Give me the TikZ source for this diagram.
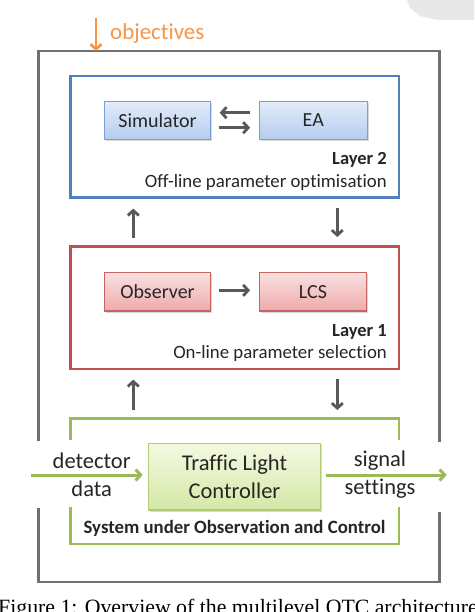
\documentclass[tikz,border=0pt]{standalone}
\usepackage{fontspec}
\setmainfont{Carlito}[Ligatures=NoCommon]
\newfontfamily\capfont{Liberation Serif}
\usetikzlibrary{arrows.meta,shadows}
\definecolor{outergray}{HTML}{707070}
\definecolor{l2blue}{HTML}{4F81BD}
\definecolor{l1red}{HTML}{C0504D}
\definecolor{sucgreen}{HTML}{9BBB59}
\definecolor{arrgray}{HTML}{595959}
\definecolor{objorange}{HTML}{F79646}
\definecolor{txt}{HTML}{262626}
\definecolor{bluetop}{HTML}{E3ECFA}
\definecolor{bluebot}{HTML}{B4CCEF}
\definecolor{blueedge}{HTML}{7A9FD6}
\definecolor{redtop}{HTML}{F9E0E0}
\definecolor{redbot}{HTML}{EFAAAA}
\definecolor{rededge}{HTML}{C66262}
\definecolor{greentop}{HTML}{F4F9E1}
\definecolor{greenbot}{HTML}{D4E8A6}
\definecolor{greenedge}{HTML}{B2CD78}
\tikzset{
  layerbox/.style={draw, line width=2.6pt, minimum width=328.7pt},
  bluebox/.style={draw=blueedge, line width=1.3pt, top color=bluetop, bottom color=bluebot,
     minimum width=106.4pt, minimum height=37.6pt, inner sep=0pt, text=txt,
     font=\fontsize{20}{24}\selectfont,
     drop shadow={shadow xshift=1.2pt, shadow yshift=-1.5pt, opacity=0.3}},
  redbox/.style={draw=rededge, line width=1.3pt, top color=redtop, bottom color=redbot,
     minimum width=106.4pt, minimum height=38.3pt, inner sep=0pt, text=txt,
     font=\fontsize{20}{24}\selectfont,
     drop shadow={shadow xshift=1.2pt, shadow yshift=-1.5pt, opacity=0.3}},
  greenbox/.style={draw=greenedge, line width=1.3pt, top color=greentop, bottom color=greenbot,
     minimum width=172.4pt, minimum height=66.7pt, inner sep=0pt, text=txt, align=center,
     font=\fontsize{22.5}{27.4}\selectfont,
     drop shadow={shadow xshift=1.2pt, shadow yshift=-1.5pt, opacity=0.3}},
  darrow/.style={draw=arrgray, line width=2.8pt, -{Straight Barb[length=5pt,width=11pt]}},
  garrow/.style={draw=sucgreen, line width=3pt, -{Straight Barb[length=5pt,width=11pt]}},
  layertitle/.style={anchor=east, text=txt, font=\fontsize{18.5}{22}\selectfont\bfseries, inner sep=0pt},
  layersub/.style={anchor=east, text=txt, font=\fontsize{18.8}{22}\selectfont, inner sep=0pt},
  iotext/.style={text=txt, font=\fontsize{22.5}{27}\selectfont, inner sep=0pt},
}
\begin{document}
\begin{tikzpicture}[x=1pt,y=-1pt]
\useasboundingbox (0,0) rectangle (474,612);
\clip (0,0) rectangle (474,612);
\fill[white] (0,0) rectangle (474,612);
% scan artefact at top right
\fill[black!9] (407,0) -- (474,0) -- (474,20) -- (438,20) -- (420,16) -- (410,8) -- cycle;

% outer box with gaps for the I/O arrows
\draw[outergray, line width=2.4pt] (38.3,441) -- (38.3,51) -- (439.3,51) -- (439.3,442);
\draw[outergray, line width=2.4pt] (38.3,508) -- (38.3,581.7) -- (439.3,581.7) -- (439.3,512);

% objectives
\coordinate (objtop) at (96,18.3);
\coordinate (objend) at (96,51);
\draw[draw=objorange, line width=2.8pt, -{Straight Barb[length=5pt,width=11pt]}] (objtop) -- (objend);
\node[anchor=west, text=objorange, font=\fontsize{22.9}{27}\selectfont, inner sep=0pt] (obj) at (110,33.3) {objectives};

% layer 2
\node[layerbox, draw=l2blue, minimum height=121.3pt] (layer2) at (234.65,136.65) {};
\node[bluebox] (sim) at (157.5,120.5) {Simulator};
\node[bluebox, minimum width=108pt] (ea) at (313.3,120.5) {EA};
\draw[darrow, shorten <=8.6pt, shorten >=8.3pt] ([yshift=7.8pt]ea.west) -- ([yshift=7.8pt]sim.east);
\draw[darrow, shorten <=7.3pt, shorten >=8.6pt] ([yshift=-7.2pt]sim.east) -- ([yshift=-7.2pt]ea.west);
\node[layertitle] (l2t) at (387,160) {Layer 2};
\node[layersub] (l2s) at (387,182) {Off-line parameter optimisation};

% layer 1
\node[layerbox, draw=l1red, minimum height=122.3pt] (layer1) at (234.65,307.85) {};
\node[redbox] (obs) at (157.5,291.85) {Observer};
\node[redbox, minimum width=107.4pt] (lcs) at (313,291.85) {LCS};
\draw[darrow, shorten <=7.3pt, shorten >=8.6pt] ([yshift=1.5pt]obs.east) -- ([yshift=1.5pt]lcs.west);
\node[layertitle] (l1t) at (387,331.7) {Layer 1};
\node[layersub] (l1s) at (387,353.3) {On-line parameter selection};

% vertical arrows between layers
\coordinate (cl) at (133.3,0);
\coordinate (cr) at (337.3,0);
\draw[darrow, shorten <=7.4pt, shorten >=10pt] (layer1.north -| cl) -- (layer2.south -| cl);
\draw[darrow, shorten <=9.4pt, shorten >=8.4pt] (layer2.south -| cr) -- (layer1.north -| cr);

% system under observation and control
\coordinate (suctop) at (234.65,418.3);
\draw[darrow, shorten <=8.3pt, shorten >=9.3pt] (suctop -| cl) -- (layer1.south -| cl);
\draw[darrow, shorten <=8.4pt, shorten >=8.3pt] (layer1.south -| cr) -- (suctop -| cr);
\draw[sucgreen, line width=2.6pt] (70.3,440) -- (70.3,418.3) -- (399,418.3) -- (399,440);
\draw[sucgreen, line width=2.6pt] (70.3,507.3) -- (70.3,544) -- (399,544) -- (399,507.3);
\node[greenbox] (tlc) at (234.5,476.7) {Traffic Light\\Controller};
\node[anchor=center, text=txt, font=\fontsize{18.8}{22}\selectfont\bfseries, inner sep=0pt] (suc) at (234.5,528.3) {System under Observation and Control};

\coordinate (din) at (30.7,475);
\coordinate (sout) at (446.7,475);
\draw[garrow, shorten >=5pt] (din) -- (din -| tlc.west);
\draw[garrow, shorten <=4.3pt] (sout -| tlc.east) -- (sout);
\node[iotext] (det) at (91.7,461) {detector};
\node[iotext] (dat) at (91.7,488.7) {data};
\node[iotext] (sig) at (380,461) {signal};
\node[iotext] (set) at (380,489) {settings};

% caption (cut off at the edges, as in the reference)
\node[anchor=base west, inner sep=0pt, text=black, font=\capfont\fontsize{21.8}{26}\selectfont] (cap) at (-2,614.5) {Figure 1: Overview of the multilevel OTC architecture};
\end{tikzpicture}
\end{document}
